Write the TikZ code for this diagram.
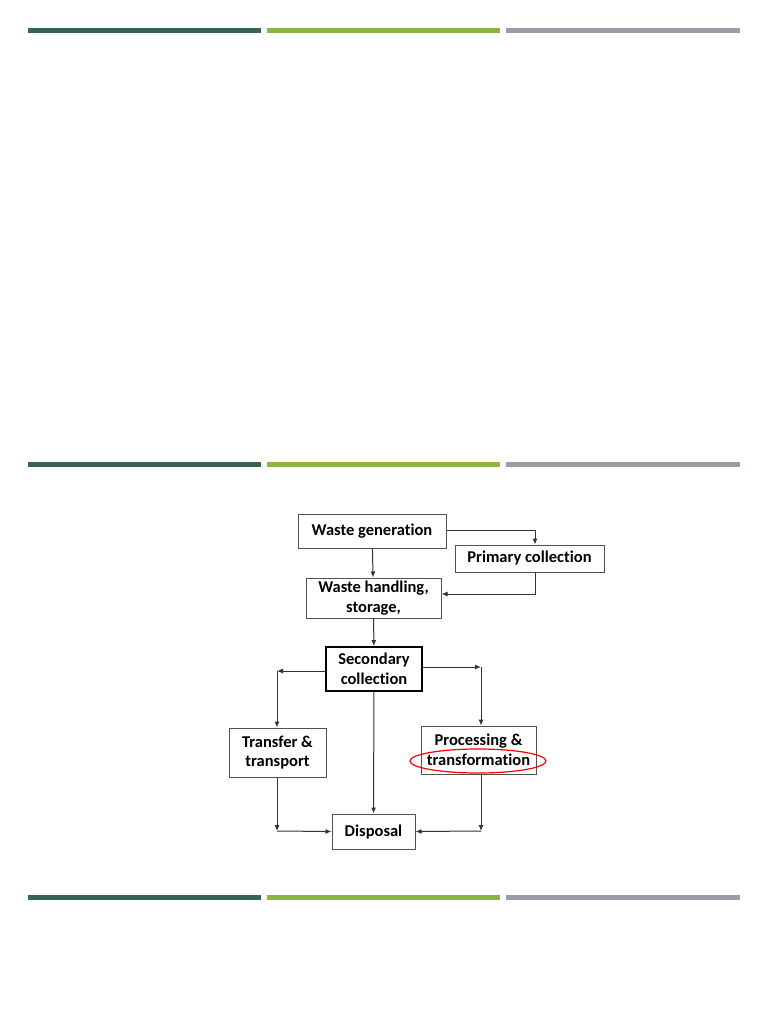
\documentclass[tikz,border=0pt]{standalone}
\usepackage{fontspec}
\setmainfont[Ligatures=NoCommon]{Carlito}
\usepackage{tikz}
\usetikzlibrary{arrows.meta,positioning,calc}
\definecolor{bardark}{HTML}{356652}
\definecolor{barlight}{HTML}{8BB545}
\definecolor{bargray}{HTML}{989EA6}
\definecolor{lineclr}{HTML}{333333}

\begin{document}
\begin{tikzpicture}[
		x=1pt, y=-1pt,
		>={Latex[length=6pt,width=5pt]},
		stepbox/.style={draw=lineclr!85, line width=1pt, fill=white, align=center, inner sep=2pt, font=\fontsize{16.5}{19.5}\selectfont\bfseries},
		flow/.style={->, draw=lineclr, line width=1pt},
		bar/.style={line width=5pt}
		]
		
		\useasboundingbox (0,0) rectangle (768,1024);
		
		% Slide bars
		\foreach \yy in {31,464,897}{
			\draw[bar, bardark] (28,\yy) -- (261,\yy);
			\draw[bar, barlight] (267,\yy) -- (500,\yy);
			\draw[bar, bargray] (506,\yy) -- (740,\yy);
		}
		
		% Boxes
		\node[stepbox, minimum width=148pt, minimum height=34pt] (gen) at (372,531) {Waste generation};
		\node[stepbox, minimum width=149pt, minimum height=27pt] (prim) at (529.5,558.5) {Primary collection};
		\node[stepbox, minimum width=135pt, minimum height=40pt] (hand) at (373.5,598) {Waste handling,\\ storage,};
		\node[stepbox, draw=black, line width=1.8pt, minimum width=96pt, minimum height=44pt] (sec) at (374,669) {Secondary\\ collection};
		\node[stepbox, minimum width=97pt, minimum height=49pt] (trans) at (277.5,752.5) {Transfer \&\\ transport};
		\node[stepbox, minimum width=115pt, minimum height=48pt] (proc) at (478.5,750) {Processing \&\\ transformation};
		\node[stepbox, minimum width=83pt, minimum height=35pt] (disp) at (373.5,831.5) {Disposal};
		
		% Highlight
		\draw[red, line width=1.2pt] (478,761) ellipse (68pt and 12pt);
		
		% Corners
		\coordinate (c1) at (535,530);
		\coordinate (c2) at (535,594);
		\coordinate (c3) at (277,671);
		\coordinate (c4) at (481,667);
		\coordinate (c5) at (277,831);
		\coordinate (c6) at (481,831);
		
		% Arrows
		\draw[flow] (gen.east |- c1) -- (c1) -- (prim.north -| c1);
		\draw[flow] (prim.south -| c2) -- (c2) -- (hand.east |- c2);
		\draw[flow] (gen) -- (hand);
		\draw[flow] (hand) -- (sec);
		
		\draw[flow] (sec.west |- c3) -- (c3);
		\draw[flow] (c3) -- (trans.north -| c3);
		\draw[flow] (sec.east |- c4) -- (c4);
		\draw[flow] (c4) -- (proc.north -| c4);
		\draw[flow] (sec) -- (disp);
		
		\draw[flow] (trans.south -| c5) -- (c5);
		\draw[flow] (c5) -- (disp.west);
		\draw[flow] (proc.south -| c6) -- (c6);
		\draw[flow] (c6) -- (disp.east);
		
	\end{tikzpicture}
\end{document}
